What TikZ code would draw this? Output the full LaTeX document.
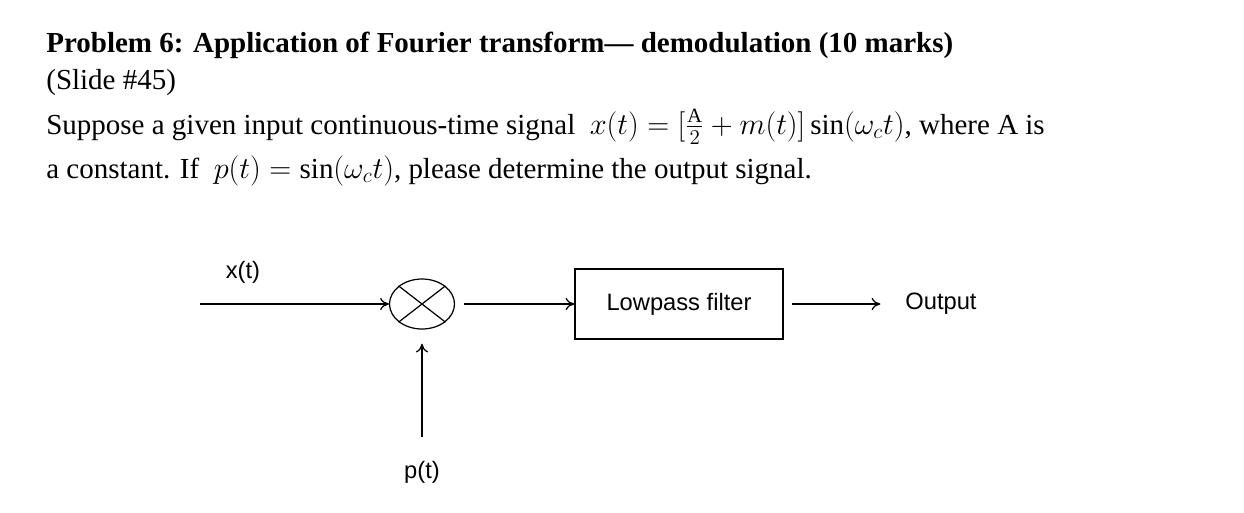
\documentclass[tikz,border=0pt]{standalone}
\usepackage{fontspec}
\setmainfont{Liberation Serif}
\newfontfamily\arial{Liberation Sans}
\usetikzlibrary{arrows.meta,shapes.geometric}
\begin{document}
\begin{tikzpicture}[x=0.02cm,y=-0.02cm,
  txt/.style={anchor=base west,inner sep=0pt,font=\fontsize{16.5}{20}\selectfont},
  lbl/.style={inner sep=0pt,font=\arial\fontsize{13.5}{16}\selectfont},
  wire/.style={line width=0.7pt,-{To[length=5pt,width=7pt]}}]
\useasboundingbox (0,0) rectangle (1244,512);
\node[txt,font=\bfseries\fontsize{16.5}{20}\selectfont] (t1) at (46,52) {Problem 6: Application of Fourier transform— demodulation (10 marks)};
\node[txt] (t2) at (46,89) {(Slide \#45)};
\node[txt] (t3) at (46,134) {Suppose a given input continuous-time signal \ $x(t)=[\frac{\mathrm{A}}{2}+m(t)]\sin(\omega_c t)$, where A is};
\node[txt] (t4) at (46,178) {a constant. If \ $p(t)=\sin(\omega_c t)$, please determine the output signal.};
\coordinate (in) at (200,304);
\node[draw,ellipse,line width=0.7pt,inner sep=0pt,minimum width=1.3cm,minimum height=1.0cm] (m) at (422,304) {};
\draw[line width=0.7pt] (m.north west) -- (m.south east) (m.north east) -- (m.south west);
\node[draw,line width=0.7pt,minimum width=4.16cm,minimum height=1.4cm,lbl] (lp) at (679,304) {Lowpass filter};
\node[lbl,anchor=west] (out) at (905,304) {Output};
\coordinate (pin) at (422,437);
\node[lbl] (xl) at (243,272) {x(t)};
\node[lbl] (pl) at (422,472) {p(t)};
\draw[wire] (in) -- (m.west);
\draw[wire,shorten <=5pt] (m.east) -- (lp.west);
\draw[wire,shorten <=5pt,shorten >=14pt] (lp.east) -- (out.west);
\draw[wire,shorten >=8pt] (pin) -- (m.south);
\end{tikzpicture}
\end{document}
